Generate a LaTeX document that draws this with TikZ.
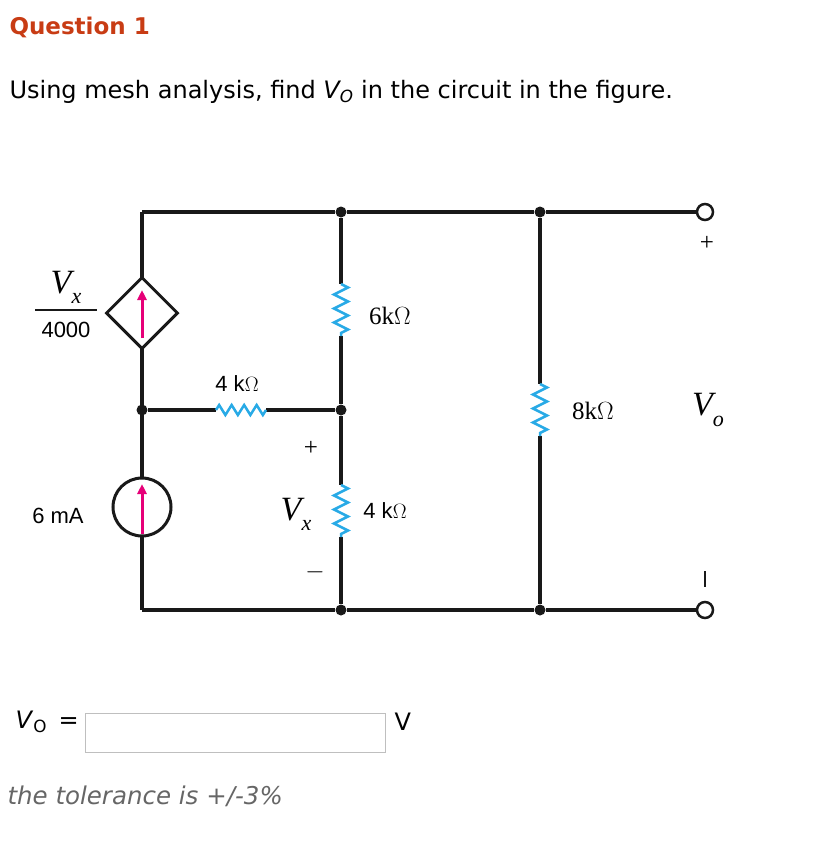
\documentclass[tikz,border=0pt]{standalone}
\usepackage{fontspec}
\setmainfont{DejaVu Sans}
\newfontfamily\serifx{Liberation Serif}
\newfontfamily\sansx{Liberation Sans}
\usetikzlibrary{decorations.pathmorphing,arrows.meta,shapes.geometric}
\definecolor{qred}{RGB}{200,60,20}
\definecolor{resblue}{RGB}{40,170,230}
\definecolor{pinkarr}{RGB}{230,0,120}
\tikzset{
 wire/.style={line width=4pt,black!90},
 res/.style={resblue,line width=2.5pt,decorate,decoration={zigzag,segment length=14pt,amplitude=7pt}},
 dotn/.style={circle,fill=black!90,inner sep=0pt,minimum size=11pt},
 term/.style={circle,draw=black!90,line width=2.5pt,fill=white,inner sep=0pt,minimum size=16pt},
 src/.style={draw=black!90,line width=3pt,fill=white,inner sep=0pt},
 parr/.style={pinkarr,line width=3pt,-{Triangle[length=10pt,width=9pt]}},
 lbl/.style={font=\serifx\fontsize{25}{25}\selectfont},
 lbv/.style={font=\serifx\fontsize{34}{34}\selectfont,inner sep=1pt},
 lbs/.style={font=\sansx\fontsize{22}{22}\selectfont},
}
\newcommand{\vsub}[1]{{\itshape V}\raisebox{-0.3em}{\fontsize{22}{22}\selectfont\itshape #1}}
\begin{document}
\begin{tikzpicture}[x=1pt,y=-1pt]
\useasboundingbox (0,0) rectangle (840,852);
\node[anchor=west,text=qred,font=\bfseries\fontsize{23}{23}\selectfont] (q) at (6,27) {Question 1};
\node[anchor=west,font=\fontsize{24}{24}\selectfont] (t) at (6,92) {Using mesh analysis, find \textit{V\textsubscript{O}} in the circuit in the figure.};
% nodes
\node[dotn] (a) at (341,212) {};
\node[dotn] (b) at (540,212) {};
\node[dotn] (c) at (142,410) {};
\node[dotn] (d) at (341,410) {};
\node[dotn] (e) at (341,610) {};
\node[dotn] (f) at (540,610) {};
\coordinate (tl) at (142,212);
\coordinate (bl) at (142,610);
% wires
\draw[wire] (tl) -- (a) -- (b) -- (697,212);
\draw[wire] (bl) -- (e) -- (f) -- (697,610);
\draw[wire] (tl) -- (bl);
\draw[wire] (a) -- (341,284); \draw[wire] (341,336) -- (d);
\draw[wire] (d) -- (341,485); \draw[wire] (341,537) -- (e);
\draw[wire] (b) -- (540,384); \draw[wire] (540,436) -- (f);
\draw[wire] (c) -- (216,410); \draw[wire] (266,410) -- (d);
% resistors
\draw[res] (341,284) -- (341,336);
\draw[res] (341,485) -- (341,537);
\draw[res] (540,384) -- (540,436);
\draw[res,decoration={zigzag,segment length=12.5pt,amplitude=5pt}] (216,410) -- (266,410);
% sources
\node[src,diamond,minimum size=72pt,shape aspect=1] (ds) at (142,313) {};
\node[src,circle,minimum size=58pt] (cs) at (142,507) {};
\draw[parr] (142,338) -- (142,290);
\draw[parr] (142,534) -- (142,484);
% terminals
\node[term] (tp) at (705,212) {};
\node[term] (tm) at (705,610) {};
% labels
\node[lbl] at (390,316) {6k$\Omega$};
\node[lbl] at (593,411) {8k$\Omega$};
\node[lbs] at (237,384) {4 k$\Omega$};
\node[lbs] at (385,511) {4 k$\Omega$};
\node[lbs] at (58,516) {6 mA};
\node[lbl] at (311,448) {+};
\node[lbl] at (315,572) {$-$};
\node[lbv] at (296,514) {\vsub{x}};
\node[lbl] at (707,243) {+};
\draw[black!90,line width=2pt] (705,571) -- (705,587);
\node[lbv] at (708,410) {\vsub{o}};
\node[lbv] (fr) at (66,287) {\vsub{x}};
\draw[black!90,line width=1.5pt] (35,310) -- (97,310);
\node[lbs] at (66,330) {4000};
% answer
\node[anchor=west,font=\fontsize{24}{24}\selectfont] at (12,722) {\textit{V}\textsubscript{O} \,=};
\draw[black!25,line width=1pt] (85,713) rectangle (385,752);
\node[anchor=west,font=\fontsize{24}{24}\selectfont] at (391,722) {V};
\node[anchor=west,text=black!60,font=\itshape\fontsize{24.5}{24}\selectfont] at (4,796) {the tolerance is +/-3\%};
\end{tikzpicture}
\end{document}
